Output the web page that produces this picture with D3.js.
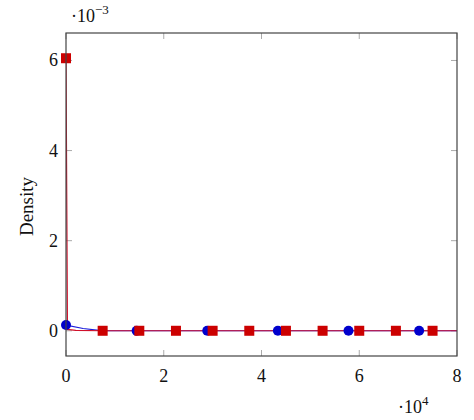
<!DOCTYPE html>
<html lang="en">
<head>
  <meta charset="UTF-8">
  <title>Density</title>
  <script src="https://d3js.org/d3.v7.min.js"></script>
  <style>
    body { margin: 0; padding: 0; background: #fff; }
    svg text { font-family: "Liberation Serif", "DejaVu Serif", serif; fill: #111; }
  </style>
</head>
<body>
  <div id="chart"></div>
  <script>
    // blue series: line points and marker points
    const blueLineX = [0, 3500, 7200, 14450, 28900, 43350, 57800, 72250, 80000];
    const blueLineY = [0.000127, 0.00005, 0.000003, 0, 0, 0, 0, 0, 0];
    const blueMarkX = [0, 14450, 28900, 43350, 57800, 72250];
    const blueMarkY = [0.000127, 0, 0, 0, 0, 0];

    // red series
    const redLineX = [0, 300, 2000, 7500, 15000, 22500, 30000, 37500, 45000, 52500, 60000, 67500, 75000, 80000];
    const redLineY = [0.00605, 0.00003, 0.00001, 0, 0, 0, 0, 0, 0, 0, 0, 0, 0, 0];
    const redMarkX = [0, 7500, 15000, 22500, 30000, 37500, 45000, 52500, 60000, 67500, 75000];
    const redMarkY = [0.00605, 0, 0, 0, 0, 0, 0, 0, 0, 0, 0];

    const xTicks = [0, 20000, 40000, 60000, 80000];
    const yTicks = [0, 0.002, 0.004, 0.006];

    const width = 474, height = 420;
    const margin = { left: 66, right: 17, top: 33, bottom: 64 };

    const svg = d3.select("#chart").append("svg")
      .attr("width", width).attr("height", height);

    const x = d3.scaleLinear().domain([0, 80000]).range([margin.left, width - margin.right]);
    const y = d3.scaleLinear().domain([-0.00056, 0.00661]).range([height - margin.bottom, margin.top]);

    svg.append("clipPath").attr("id", "clip").append("rect")
      .attr("x", margin.left).attr("y", margin.top)
      .attr("width", width - margin.left - margin.right)
      .attr("height", height - margin.top - margin.bottom);

    const tickLen = 6;
    const tickColor = "#aaa";

    // ticks on all four sides, pointing inside
    xTicks.forEach(t => {
      svg.append("line").attr("x1", x(t)).attr("x2", x(t))
        .attr("y1", y.range()[0]).attr("y2", y.range()[0] - tickLen)
        .attr("stroke", tickColor);
      svg.append("line").attr("x1", x(t)).attr("x2", x(t))
        .attr("y1", y.range()[1]).attr("y2", y.range()[1] + tickLen)
        .attr("stroke", tickColor);
      svg.append("text").attr("x", x(t)).attr("y", y.range()[0] + 26)
        .attr("text-anchor", "middle").attr("font-size", 18)
        .text(t / 10000);
    });
    yTicks.forEach(t => {
      svg.append("line").attr("x1", x.range()[0]).attr("x2", x.range()[0] + tickLen)
        .attr("y1", y(t)).attr("y2", y(t)).attr("stroke", tickColor);
      svg.append("line").attr("x1", x.range()[1]).attr("x2", x.range()[1] - tickLen)
        .attr("y1", y(t)).attr("y2", y(t)).attr("stroke", tickColor);
      svg.append("text").attr("x", x.range()[0] - 8).attr("y", y(t) + 6)
        .attr("text-anchor", "end").attr("font-size", 18)
        .text(t * 1000);
    });

    const plot = svg.append("g").attr("clip-path", "url(#clip)");
    const line = d3.line().x(d => x(d[0])).y(d => y(d[1]));

    plot.append("path").datum(blueLineX.map((v, i) => [v, blueLineY[i]]))
      .attr("d", line).attr("fill", "none").attr("stroke", "#1a1adb").attr("stroke-width", 1.2);
    plot.append("path").datum(redLineX.map((v, i) => [v, redLineY[i]]))
      .attr("d", line).attr("fill", "none").attr("stroke", "#d0102a").attr("stroke-width", 1.2);

    const sq = 10;
    svg.selectAll(".bm").data(blueMarkX.map((v, i) => [v, blueMarkY[i]])).enter()
      .append("circle").attr("class", "bm")
      .attr("cx", d => x(d[0])).attr("cy", d => y(d[1])).attr("r", 5)
      .attr("fill", "#0000cc");
    svg.selectAll(".rm").data(redMarkX.map((v, i) => [v, redMarkY[i]])).enter()
      .append("rect").attr("class", "rm")
      .attr("x", d => x(d[0]) - sq / 2).attr("y", d => y(d[1]) - sq / 2)
      .attr("width", sq).attr("height", sq)
      .attr("fill", "#cc0000");

    // frame
    svg.append("rect").attr("x", margin.left).attr("y", margin.top)
      .attr("width", width - margin.left - margin.right)
      .attr("height", height - margin.top - margin.bottom)
      .attr("fill", "none").attr("stroke", "#444").attr("stroke-width", 1.2);

    // scale labels
    const ex = svg.append("text").attr("x", 71).attr("y", 22).attr("font-size", 18);
    ex.append("tspan").text("\u00b710");
    ex.append("tspan").attr("dy", -8).attr("font-size", 13).text("\u22123");
    const ex2 = svg.append("text").attr("x", 398).attr("y", 413).attr("font-size", 18);
    ex2.append("tspan").text("\u00b710");
    ex2.append("tspan").attr("dy", -8).attr("font-size", 13).text("4");

    svg.append("text").attr("transform", `translate(33, ${(margin.top + height - margin.bottom) / 2 + 12}) rotate(-90)`)
      .attr("text-anchor", "middle").attr("font-size", 19).text("Density");
  </script>
</body>
</html>
